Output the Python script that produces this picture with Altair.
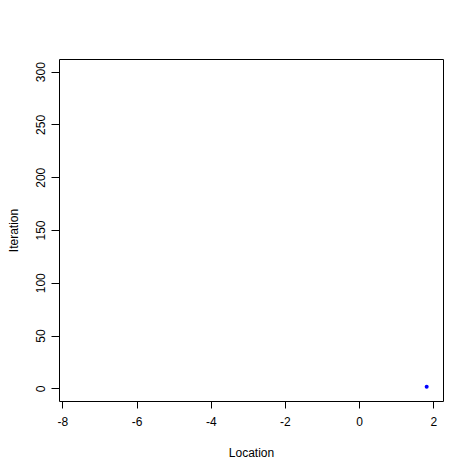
import altair as alt
import pandas as pd

location = [1.82]
iteration = [1.5]
x_ticks = [-8, -6, -4, -2, 0, 2]
y_ticks = [0, 50, 100, 150, 200, 250, 300]

df = pd.DataFrame({"Location": location, "Iteration": iteration})

font = "Liberation Sans"

chart = alt.Chart(df).mark_circle(color="#0000FF", opacity=1, size=16).encode(
    x=alt.X("Location:Q", scale=alt.Scale(domain=[-8.09, 2.26], nice=False, zero=False),
            axis=alt.Axis(values=x_ticks, grid=False, domain=False, tickColor="black",
                          tickSize=7, labelPadding=8, labelFontSize=12, labelFont=font,
                          labelColor="black", title="Location", titleFontSize=12,
                          titleFont=font, titleFontWeight="normal", titleColor="black",
                          titlePadding=20, labelFlush=False,
                          labelExpr="'' + datum.value")),
    y=alt.Y("Iteration:Q", scale=alt.Scale(domain=[-12, 312], nice=False, zero=False),
            axis=alt.Axis(values=y_ticks, grid=False, domain=False, tickColor="black",
                          tickSize=8, labelAngle=-90, labelAlign="center",
                          labelBaseline="alphabetic", labelPadding=7,
                          labelFontSize=12, labelFont=font, labelColor="black",
                          title="Iteration", titleFontSize=12, titleFont=font,
                          titleFontWeight="normal", titleColor="black", titlePadding=14,
                          labelFlush=False, labelExpr="'' + datum.value")),
).properties(
    width=384, height=342,
    autosize=alt.AutoSizeParams(type="none"),
    padding={"left": 51, "top": 51, "right": 23, "bottom": 65},
).configure(
    background="white",
    view=alt.ViewConfig(stroke="black", strokeWidth=1, fill="white"),
)

chart.save("out.html", embed_options={"renderer": "svg", "actions": False})
